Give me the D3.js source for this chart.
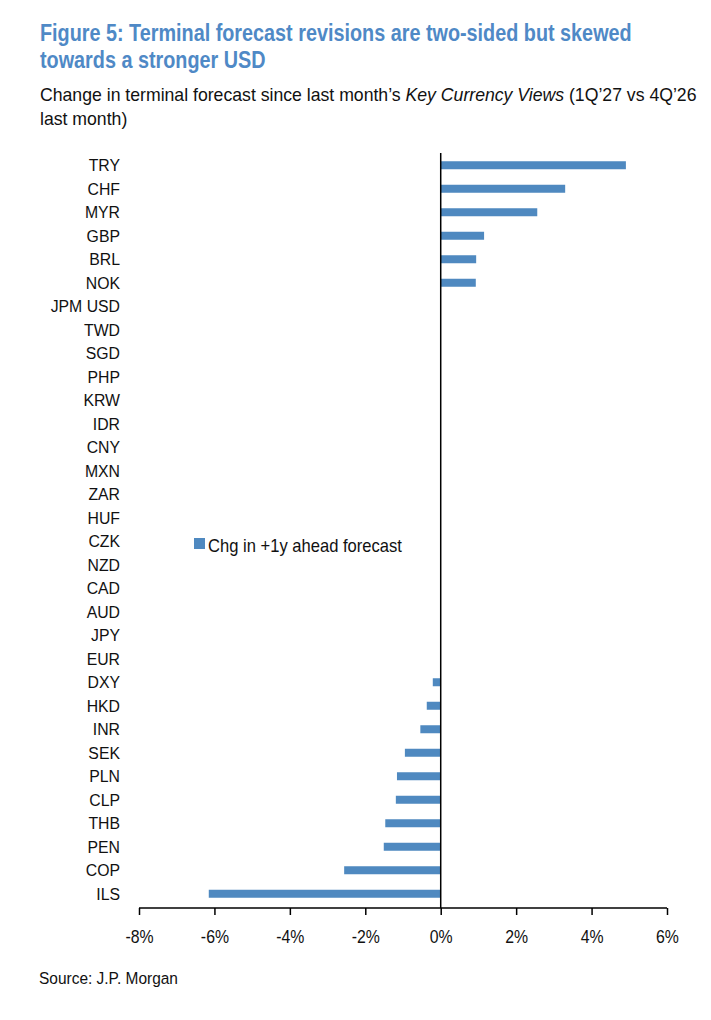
<!DOCTYPE html>
<html lang="en">
<head>
<meta charset="utf-8">
<title>Terminal forecast revisions</title>
<style>
  body { margin: 0; background: #fff; }
  svg text { font-family: 'Liberation Sans Narrow', 'Arial Narrow', 'Liberation Sans', Arial, sans-serif; }
</style>
</head>
<body>
<div id="chart"></div>
<script src="https://cdn.jsdelivr.net/npm/d3@7"></script>
<script>
// currencies, top to bottom
var currencies = ["TRY", "CHF", "MYR", "GBP", "BRL", "NOK", "JPM USD", "TWD", "SGD", "PHP",
  "KRW", "IDR", "CNY", "MXN", "ZAR", "HUF", "CZK", "NZD", "CAD", "AUD", "JPY", "EUR",
  "DXY", "HKD", "INR", "SEK", "PLN", "CLP", "THB", "PEN", "COP", "ILS"];
// change in +1y ahead forecast, %
var chgValues = [4.91, 3.30, 2.56, 1.15, 0.94, 0.93, 0, 0, 0, 0,
  0, 0, 0, 0, 0, 0, 0, 0, 0, 0, 0, 0,
  -0.21, -0.37, -0.54, -0.95, -1.16, -1.19, -1.47, -1.51, -2.56, -6.15];
var xTicks = [-8, -6, -4, -2, 0, 2, 4, 6];

var width = 711, height = 1020;
var barColor = "#4f89c0";

var svg = d3.select("#chart").append("svg")
  .attr("width", width)
  .attr("height", height);

// squeeze text horizontally around its anchor x (no narrow font installed)
function squeezeBy(sel, k) {
  sel.each(function() {
    var t = d3.select(this);
    var x0 = +t.attr("x") || 0;
    t.attr("transform", "translate(" + x0 + ",0) scale(" + k + ",1) translate(" + (-x0) + ",0)");
  });
}
function fitWidth(sel, w) {
  var k = w / sel.node().getBBox().width;
  squeezeBy(sel, k);
  return k;
}

// title
var t1 = svg.append("text")
  .attr("x", 40).attr("y", 41)
  .attr("fill", "#4f89c6")
  .attr("font-size", "23px")
  .attr("font-weight", "bold")
  .text("Figure 5: Terminal forecast revisions are two-sided but skewed");
var kTitle = fitWidth(t1, 592);
var t2 = svg.append("text")
  .attr("x", 40).attr("y", 68)
  .attr("fill", "#4f89c6")
  .attr("font-size", "23px")
  .attr("font-weight", "bold")
  .text("towards a stronger USD");
squeezeBy(t2, kTitle);

// subtitle
var s1 = svg.append("text")
  .attr("x", 40).attr("y", 101)
  .attr("fill", "#111")
  .attr("font-size", "19px");
s1.append("tspan").text("Change in terminal forecast since last month\u2019s ");
s1.append("tspan").attr("font-style", "italic").text("Key Currency Views");
s1.append("tspan").text(" (1Q\u201927 vs 4Q\u201926");
var kSub = fitWidth(s1, 657);
var s2 = svg.append("text")
  .attr("x", 40).attr("y", 125)
  .attr("fill", "#111")
  .attr("font-size", "19px")
  .text("last month)");
squeezeBy(s2, kSub);

// scales
var x = d3.scaleLinear().domain([-8, 6]).range([139, 667]);
var y = d3.scaleBand().domain(currencies).range([153.5, 905.5]);
var axisY = 908;
var barH = 8;

var data = currencies.map(function(c, i) { return { name: c, value: chgValues[i] }; });

// bars
svg.selectAll("rect.bar")
  .data(data.filter(function(d) { return d.value !== 0; }))
  .enter()
  .append("rect")
    .attr("class", "bar")
    .attr("x", function(d) { return x(Math.min(0, d.value)); })
    .attr("y", function(d) { return y(d.name) + y.bandwidth() / 2 - barH / 2; })
    .attr("width", function(d) { return Math.abs(x(d.value) - x(0)); })
    .attr("height", barH)
    .attr("fill", barColor);

// zero line
svg.append("line")
  .attr("x1", x(0)).attr("x2", x(0))
  .attr("y1", 153).attr("y2", axisY)
  .attr("stroke", "#000")
  .attr("stroke-width", 1.5);

// category labels
var cats = svg.selectAll("text.cat")
  .data(currencies)
  .enter()
  .append("text")
    .attr("class", "cat")
    .attr("x", 120)
    .attr("y", function(d) { return y(d) + y.bandwidth() / 2; })
    .attr("dy", "0.36em")
    .attr("text-anchor", "end")
    .attr("font-size", "17px")
    .attr("fill", "#111")
    .text(function(d) { return d; });
squeezeBy(cats, 0.93);

// x axis
var xAxis = d3.axisBottom(x)
  .tickValues(xTicks)
  .tickSize(7)
  .tickPadding(15)
  .tickFormat(function(d) { return d + "%"; });

var gx = svg.append("g")
  .attr("transform", "translate(0," + axisY + ")")
  .call(xAxis);
gx.select(".domain").attr("stroke", "#000").attr("stroke-width", 1.5).attr("d", "M" + x(-8) + ",0H" + x(6));
gx.selectAll(".tick line").attr("stroke", "#000").attr("stroke-width", 1.5);
var tickTexts = gx.selectAll(".tick text")
  .attr("font-family", null)
  .attr("font-size", "18px")
  .attr("fill", "#111");
squeezeBy(tickTexts, 0.88);

// legend
svg.append("rect")
  .attr("x", 194).attr("y", 538)
  .attr("width", 11).attr("height", 11)
  .attr("fill", barColor);
var leg = svg.append("text")
  .attr("x", 208).attr("y", 552)
  .attr("font-size", "18px")
  .attr("fill", "#111")
  .text("Chg in +1y ahead forecast");
fitWidth(leg, 194);

// source
var src = svg.append("text")
  .attr("x", 39).attr("y", 984)
  .attr("font-size", "17px")
  .attr("fill", "#111")
  .text("Source: J.P. Morgan");
fitWidth(src, 139);
</script>
</body>
</html>
